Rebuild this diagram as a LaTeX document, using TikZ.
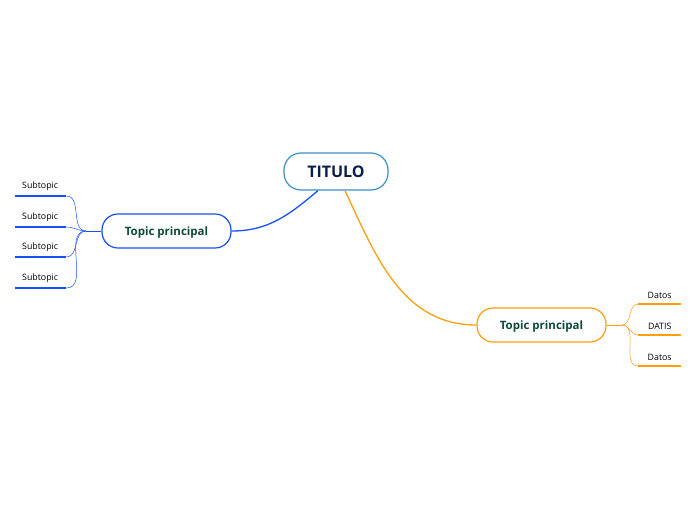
\documentclass[tikz,border=0pt]{standalone}
\usepackage{fontspec}
\setmainfont{Open Sans}
\definecolor{azul}{HTML}{1A50F0}
\definecolor{naranja}{HTML}{FF9E0F}
\definecolor{celeste}{HTML}{3A8FCF}
\definecolor{verde}{HTML}{0E4A38}
\definecolor{marino}{HTML}{0B1F4A}
\begin{document}
\begin{tikzpicture}
				[x=1pt,y=-1pt,
				titulo/.style={rounded corners=17pt, draw=celeste, line width=1.2pt,
				minimum width=104pt, minimum height=37pt, text=marino,
				font=\fontsize{16}{18}\selectfont\bfseries},
				topic/.style={rounded corners=16pt, line width=1.2pt,
				minimum width=129pt, minimum height=34pt, text=verde, text depth=0pt,
				font=\fontsize{11.5}{13}\selectfont\bfseries},
				sub/.style={anchor=south west, inner xsep=0pt, inner ysep=5pt,
				font=\fontsize{8.8}{10}\selectfont}]
				\useasboundingbox (0,0) rectangle (696,520);

				\node[titulo] (t) at (336,171.5) {TITULO};
				\node[topic, draw=azul] (tl) at (166.5,231) {Topic principal};
				\node[topic, draw=naranja] (tr) at (541.5,325) {Topic principal};

				% subtopicos izquierda
				\node[sub, text width=51pt, align=left] (s1) at (15,196) {\hspace*{7pt}Subtopic};
				\node[sub, text width=51pt, align=left] (s2) at (15,227) {\hspace*{7pt}Subtopic};
				\node[sub, text width=51pt, align=left] (s3) at (15,257) {\hspace*{7pt}Subtopic};
				\node[sub, text width=51pt, align=left] (s4) at (15,288) {\hspace*{7pt}Subtopic};

				% subtopicos derecha
				\node[sub, text width=43pt, align=center] (d1) at (638,304) {Datos};
				\node[sub, text width=43pt, align=center] (d2) at (638,335) {DATIS};
				\node[sub, text width=43pt, align=center] (d3) at (638,366) {Datos};

				\coordinate (bl) at (86,231); %rama izquierda
				\coordinate (br) at (622,325); %rama derecha

				\draw[azul, line width=1.3pt] (tl.east) to[out=0,in=-140] ([xshift=-18pt]t.south);
				\draw[naranja, line width=1.3pt] ([xshift=9pt]t.south) to[out=-65,in=180] (tr.west);

				\draw[azul, line width=0.8pt] (tl.west) -- (bl);
				\draw[naranja, line width=0.8pt] (tr.east) -- (br);

				\foreach \s in {s1,s2,s3,s4}{
				\draw[azul, line width=1.5pt] (\s.south west) -- (\s.south east);
				\draw[azul, line width=0.5pt] (bl) to[out=180,in=0] (\s.south east);
				}
				\foreach \s in {d1,d2,d3}{
				\draw[naranja, line width=1.5pt] (\s.south west) -- (\s.south east);
				\draw[naranja, line width=0.5pt] (br) to[out=0,in=180] (\s.south west);
				}
			\end{tikzpicture}
\end{document}
